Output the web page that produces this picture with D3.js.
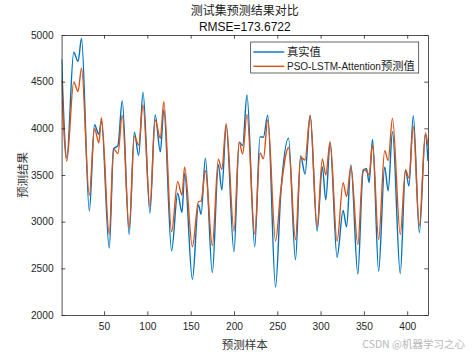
<!DOCTYPE html>
<html><head><meta charset="utf-8">
<script src="https://cdn.jsdelivr.net/npm/d3@7"></script>
<style>body{margin:0;background:#fff}svg{display:block}</style>
</head><body><svg id="c" width="474" height="355"></svg>
<script>
const sampleIdx = [1,7,15,20,24,33,39,44,47,56,61,66,71,79,85,90,95,103,109,115,119,128,135,140,143,152,159,162,167,175,182,186,191,200,206,210,215,224,230,234,239,248,254,263,271,277,282,288,296,302,306,311,319,326,330,335,343,349,353,356,360,367,374,378,383,392,398,402,407,414,421,424];
const actualValues = [4740,3685,4815,4716,4962,3115,4038,3936,4080,2716,3780,3814,4293,2864,3958,3709,4388,3092,4143,3750,4196,2689,3304,3100,3520,2382,3179,3080,3679,2454,3610,3339,4030,2679,3852,3815,4357,2732,3908,3905,4140,2300,3295,3893,2592,3704,3511,4138,2900,3585,3235,3840,2618,3120,2946,3607,2439,3540,3570,3420,3880,2470,3585,3332,3964,2443,3554,3382,4135,2882,3929,3650];
const predictedValues = [4520,3650,4497,4395,4645,3284,3998,3846,4115,2864,3780,3730,4141,2935,3914,3821,4250,3161,4089,3893,4286,2893,3429,3286,3585,2732,3214,3220,3545,2745,3668,3560,4050,2900,3852,3725,4150,2868,3735,3675,4089,2792,3330,3795,2807,3690,3661,4138,2946,3672,3500,3857,2790,3418,3268,3590,2755,3560,3540,3500,3821,2808,3760,3655,4107,2862,3554,3470,4020,2955,3950,3810];
const xTicks = [50,100,150,200,250,300,350,400];
const yTicks = [2000,2500,3000,3500,4000,4500,5000];
const xDomain = [1,424];
const yDomain = [2000,5000];
const titleLines = ["测试集预测结果对比","RMSE=173.6722"];
const seriesNames = ["真实值","PSO-LSTM-Attention预测值"];
const seriesColors = ["#0072BD","#D95319"];
const xLabel = "预测样本";
const yLabel = "预测结果";
const watermark = "CSDN @机器学习之心";

const LAT = "'Liberation Sans', Arial, sans-serif";
const CJK = "'Noto Sans CJK SC', sans-serif";
const svg = d3.select("#c");
const L = 61.6, R = 428, T = 35, B = 315;
const x = d3.scaleLinear().domain(xDomain).range([L,R]);
const y = d3.scaleLinear().domain(yDomain).range([B,T]);
const axisCol = "#262626";

function mixed(sel, str, latSize, cjkSize, col) {
  const parts = str.match(/[\u3000-\u9fff\uff00-\uffef]+|[^\u3000-\u9fff\uff00-\uffef]+/g);
  parts.forEach(p => {
    const isC = /[\u3000-\u9fff]/.test(p);
    sel.append("tspan").text(p)
      .attr("font-family", isC ? CJK : LAT)
      .attr("font-size", isC ? cjkSize : latSize)
      .attr("fill", col);
  });
}

const series = [actualValues, predictedValues];
svg.append("clipPath").attr("id","clp").append("rect")
  .attr("x",L).attr("y",T).attr("width",R-L).attr("height",B-T);
series.forEach((vals,i) => {
  const line = d3.line().x((d,j)=>x(sampleIdx[j])).y(d=>y(d)).curve(d3.curveMonotoneX);
  svg.append("path").attr("d", line(vals)).attr("fill","none")
    .attr("stroke", seriesColors[i]).attr("stroke-width",1.4)
    .attr("stroke-linejoin","round")
    .attr("clip-path","url(#clp)");
});

const tl = 3.7;
const fmt = d3.format("d");
const gx = svg.append("g").attr("transform",`translate(0,${B})`)
  .call(d3.axisBottom(x).tickValues(xTicks).tickFormat(fmt).tickSizeInner(-tl).tickSizeOuter(0).tickPadding(8));
const gxt = svg.append("g").attr("transform",`translate(0,${T})`)
  .call(d3.axisTop(x).tickValues(xTicks).tickSizeInner(-tl).tickSizeOuter(0).tickFormat(""));
const gy = svg.append("g").attr("transform",`translate(${L},0)`)
  .call(d3.axisLeft(y).tickValues(yTicks).tickFormat(fmt).tickSizeInner(-tl).tickSizeOuter(0).tickPadding(8));
const gyr = svg.append("g").attr("transform",`translate(${R},0)`)
  .call(d3.axisRight(y).tickValues(yTicks).tickSizeInner(-tl).tickSizeOuter(0).tickFormat(""));
[gx,gxt,gy,gyr].forEach(g => {
  g.selectAll(".domain").attr("stroke",axisCol).attr("stroke-width",0.8);
  g.selectAll(".tick line").attr("stroke",axisCol).attr("stroke-width",0.8);
  g.selectAll("text").attr("font-family",LAT).attr("font-size",10.2).attr("fill",axisCol);
});
gx.selectAll("text").attr("dy","0.71em");

const t1 = svg.append("text").attr("x",(L+R)/2).attr("y",14.5).attr("text-anchor","middle");
mixed(t1, titleLines[0], 12, 12, "#222");
const t2 = svg.append("text").attr("x",(L+R)/2).attr("y",30.5).attr("text-anchor","middle");
mixed(t2, titleLines[1], 12, 12, "#111");

const xl = svg.append("text").attr("x",(L+R)/2).attr("y",349).attr("text-anchor","middle");
mixed(xl, xLabel, 11.5, 11.5, "#333");
const yl = svg.append("text").attr("transform",`translate(27,${(T+B)/2}) rotate(-90)`).attr("text-anchor","middle");
mixed(yl, yLabel, 11.5, 11.5, "#333");

const lg = svg.append("g");
lg.append("rect").attr("x",250.7).attr("y",42).attr("width",168).attr("height",31)
  .attr("fill","#fff").attr("stroke",axisCol).attr("stroke-width",0.7);
seriesNames.forEach((n,i) => {
  const ly = 52 + i*14.3;
  lg.append("line").attr("x1",253.3).attr("x2",284.3).attr("y1",ly).attr("y2",ly)
    .attr("stroke",seriesColors[i]).attr("stroke-width",1.4);
  const tx = lg.append("text").attr("x",287).attr("y",ly+4);
  mixed(tx, n, 10, 11.3, "#222");
});

svg.append("text").attr("x",465).attr("y",348).attr("text-anchor","end")
  .attr("font-family",CJK).attr("font-size",10.5).attr("fill","#b8b8b8").text(watermark);
</script></body></html>
